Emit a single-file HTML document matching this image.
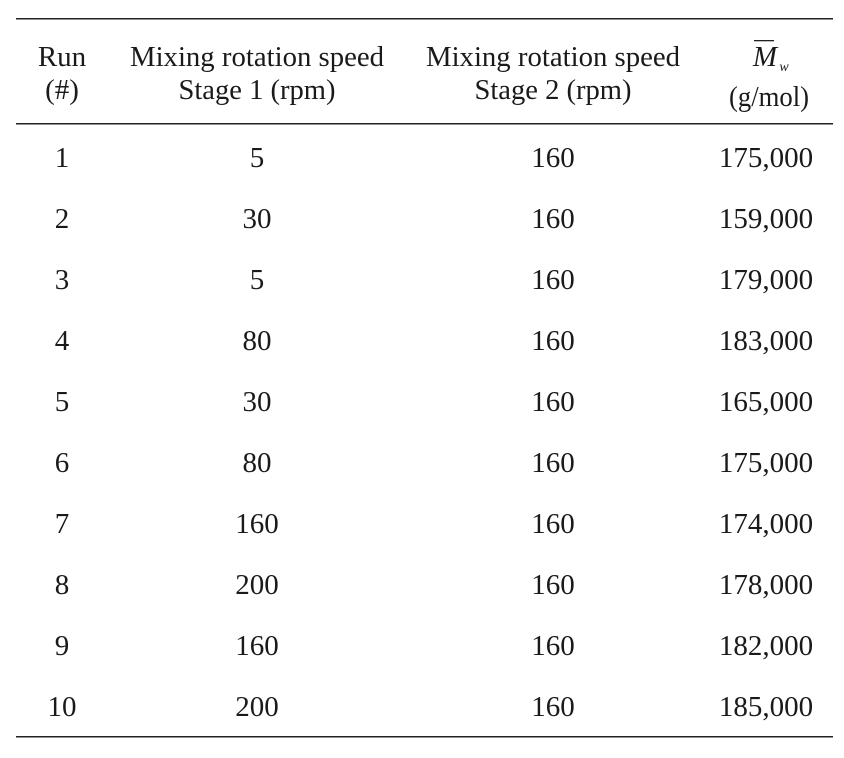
<!DOCTYPE html>
<html><head><style>
body{margin:0;background:#fff;}
svg{display:block;font-family:"Liberation Serif",serif;fill:#1a1a1a;}
</style></head><body>
<svg width="844" height="758" viewBox="0 0 844 758">
<rect x="16" y="18" width="817" height="1.5" fill="#222"/>
<rect x="16" y="123" width="817" height="1.5" fill="#222"/>
<rect x="16" y="736" width="817" height="1.5" fill="#222"/>
<g font-size="29" text-anchor="middle">
<text x="62" y="66">Run</text>
<text x="62" y="99">(#)</text>
<text x="257" y="66" textLength="254" lengthAdjust="spacingAndGlyphs">Mixing rotation speed</text>
<text x="257" y="99" textLength="157" lengthAdjust="spacingAndGlyphs">Stage 1 (rpm)</text>
<text x="553" y="66" textLength="254" lengthAdjust="spacingAndGlyphs">Mixing rotation speed</text>
<text x="553" y="99" textLength="157" lengthAdjust="spacingAndGlyphs">Stage 2 (rpm)</text>
<text x="765" y="66" font-style="italic">M</text>
<text x="784" y="71" font-size="14" font-style="italic">w</text>
<rect x="754" y="40" width="20" height="1.3" fill="#222"/>
<text x="769" y="106" textLength="80" lengthAdjust="spacingAndGlyphs">(g/mol)</text>
</g>
<g font-size="29" text-anchor="middle">
<text x="62" y="167">1</text><text x="257" y="167">5</text><text x="553" y="167">160</text><text x="766" y="167">175,000</text>
<text x="62" y="228">2</text><text x="257" y="228">30</text><text x="553" y="228">160</text><text x="766" y="228">159,000</text>
<text x="62" y="289">3</text><text x="257" y="289">5</text><text x="553" y="289">160</text><text x="766" y="289">179,000</text>
<text x="62" y="350">4</text><text x="257" y="350">80</text><text x="553" y="350">160</text><text x="766" y="350">183,000</text>
<text x="62" y="411">5</text><text x="257" y="411">30</text><text x="553" y="411">160</text><text x="766" y="411">165,000</text>
<text x="62" y="472">6</text><text x="257" y="472">80</text><text x="553" y="472">160</text><text x="766" y="472">175,000</text>
<text x="62" y="533">7</text><text x="257" y="533">160</text><text x="553" y="533">160</text><text x="766" y="533">174,000</text>
<text x="62" y="594">8</text><text x="257" y="594">200</text><text x="553" y="594">160</text><text x="766" y="594">178,000</text>
<text x="62" y="655">9</text><text x="257" y="655">160</text><text x="553" y="655">160</text><text x="766" y="655">182,000</text>
<text x="62" y="716">10</text><text x="257" y="716">200</text><text x="553" y="716">160</text><text x="766" y="716">185,000</text>
</g>
</svg>
</body></html>
